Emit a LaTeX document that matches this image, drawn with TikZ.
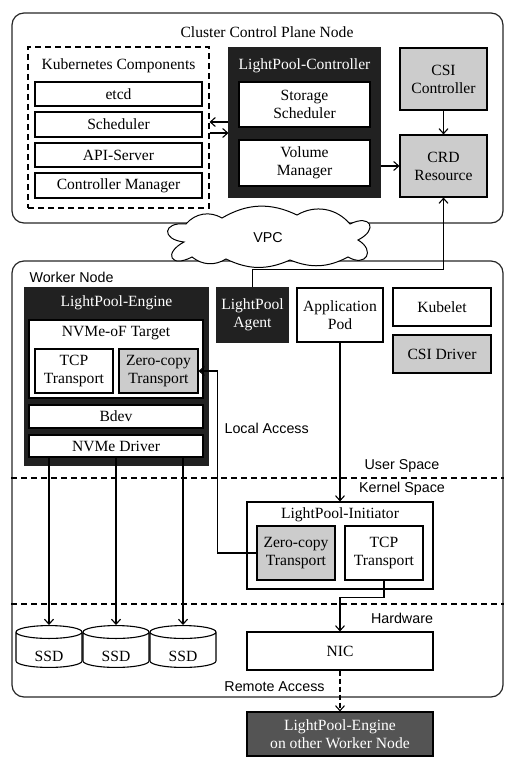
\documentclass[tikz,border=0pt]{standalone}
\usepackage{fontspec}
\setmainfont{Liberation Serif}
\newfontfamily\sansfam{Liberation Sans}
\usetikzlibrary{arrows.meta,shapes.geometric,shapes.symbols,calc}
\newcommand\serf{\fontsize{15.6}{18}\selectfont}
\newcommand\sanf{\sansfam\fontsize{14.3}{16}\selectfont}
\definecolor{lgray}{gray}{0.80}
\definecolor{dgray}{gray}{0.33}
\definecolor{blk}{gray}{0.13}
\begin{document}
\begin{tikzpicture}[x=1pt,y=-1pt,
  >={Straight Barb[length=5pt,width=9pt]},
  line width=1.1pt,
  outer/.style={draw=black!85, rounded corners=12pt, inner sep=0pt, line width=1.2pt},
  box/.style={draw, fill=white, inner sep=0pt, align=center, font=\serf},
  gbox/.style={box, fill=lgray},
  bbox/.style={draw=blk, fill=blk, inner sep=0pt},
  wtitle/.style={text=white, font=\serf, inner sep=0pt},
  lab/.style={font=\serf, inner sep=0pt},
  slab/.style={font=\sanf, inner sep=0pt},
  kb/.style={box, minimum width=167pt, minimum height=24pt},
  sep/.style={dashed, dash pattern=on 6pt off 4pt, line width=1.1pt},
  ssd/.style={cylinder, shape border rotate=90, aspect=0.45, draw, fill=white,
    minimum width=66pt, minimum height=38pt, inner sep=0pt, font=\serf,
    text height=22pt, text depth=0pt},
  lobe/.style={bend left=90, looseness=#1}
]
\useasboundingbox (0,0) rectangle (516,768);

% ---------- control plane ----------
\node[outer, minimum width=491pt, minimum height=210pt] (cp) at (257.5,118) {};
\node[lab] (cpt) at (267,32) {Cluster Control Plane Node};

\node[draw, sep, minimum width=181pt, minimum height=161pt, inner sep=0pt] (k8s) at (118.5,127.5) {};
\node[lab] (k8st) at (118.5,66) {Kubernetes Components};
\node[kb] (etcd) at (118.5,94) {etcd};
\node[kb, minimum height=25pt] (sched) at (118.5,124.5) {Scheduler};
\node[kb] (api) at (118.5,155) {API-Server};
\node[kb, minimum height=25pt] (cm) at (118.5,185.5) {Controller Manager};

\node[bbox, minimum width=151pt, minimum height=149pt] (lpc) at (304.5,122.5) {};
\node[wtitle] (lpct) at (304.5,66) {LightPool-Controller};
\node[box, minimum width=131pt, minimum height=45pt] (ss) at (304.5,104.5) {Storage\\Scheduler};
\node[box, minimum width=131pt, minimum height=46pt] (vm) at (304.5,163) {Volume\\Manager};

\node[gbox, minimum width=87pt, minimum height=62pt] (csic) at (443.5,79) {CSI\\Controller};
\node[gbox, minimum width=87pt, minimum height=62pt] (crd) at (443.5,166) {CRD\\Resource};

\coordinate (ya) at (0,122);
\coordinate (yb) at (0,133);
\draw[->] (lpc.west |- ya) -- (k8s.east |- ya);
\draw[->] (k8s.east |- yb) -- (lpc.west |- yb);
\draw[->] (csic.south) -- (crd.north);
\draw[->] (lpc.east |- crd.west) -- (crd.west);

% ---------- worker node ----------
\node[outer, minimum width=491pt, minimum height=436pt] (wn) at (257.5,479) {};
\node[slab, anchor=west] (wnt) at (29,277) {Worker Node};

% VPC cloud
\draw[fill=white, line width=1pt]
  (186,224) to[bend left=40] (222,218)
  to[bend left=28] (297,215)
  to[bend left=40] (350,224)
  to[lobe=3.3] (358,240)
  to[lobe=2.7] (348,257)
  to[bend left=25] (290,260)
  to[bend left=25] (226,259)
  to[bend left=35] (192,257)
  to[lobe=3.6] (184,242)
  to[lobe=3.3] cycle;
\node[font=\sanf, inner sep=0pt] (vpc) at (268,238) {VPC};

\node[bbox, minimum width=183pt, minimum height=177pt] (lpe) at (116.5,376.5) {};
\node[wtitle] (lpet) at (116.5,303) {LightPool-Engine};
\node[box, minimum width=174pt, minimum height=78pt] (tgt) at (116,359) {};
\node[lab] (tgtt) at (116,333) {NVMe-oF Target};
\node[box, minimum width=78pt, minimum height=44pt] (tcpe) at (74,371) {TCP\\Transport};
\node[gbox, minimum width=79pt, minimum height=44pt] (zce) at (158.5,371) {Zero-copy\\Transport};
\node[box, minimum width=174pt, minimum height=23pt] (bdev) at (116,416.5) {Bdev};
\node[box, minimum width=174pt, minimum height=22pt] (nvme) at (116,446) {NVMe Driver};

\node[bbox, minimum width=71pt, minimum height=54pt, align=center, text=white, font=\serf] (agent) at (252.5,315) {LightPool\\Agent};
\node[box, minimum width=86pt, minimum height=54pt] (pod) at (340,315) {Application\\Pod};
\node[box, minimum width=98pt, minimum height=38pt] (kubelet) at (442,307) {Kubelet};
\node[gbox, minimum width=98pt, minimum height=38pt] (csid) at (442,354) {CSI Driver};

\draw[->] (agent.north) -- ++(0,-18) -| (crd.south);

\node[slab, anchor=west] (la) at (224,428) {Local Access};
\node[slab] (us) at (402,466) {User Space};
\coordinate (yus) at (0,478);
\draw[sep] (wn.west |- yus) -- (wn.east |- yus);
\node[slab] (ks) at (402,489) {Kernel Space};

\node[box, minimum width=186pt, minimum height=87pt] (ini) at (340,545.5) {};
\node[lab] (init) at (340,515) {LightPool-Initiator};
\node[gbox, minimum width=78pt, minimum height=54pt] (zci) at (296,553) {Zero-copy\\Transport};
\node[box, minimum width=78pt, minimum height=54pt] (tcpi) at (384,553) {TCP\\Transport};

\draw[->] (pod.south) -- (ini.north);
\draw[->] (zci.west) -- ++(-39,0) |- (zce.east);

\coordinate (yhw) at (0,604);
\draw[sep] (wn.west |- yhw) -- (wn.east |- yhw);
\node[slab] (hw) at (402,618) {Hardware};

\node[box, minimum width=186pt, minimum height=38pt] (nic) at (340,651) {NIC};
\draw[->] (tcpi.south) -- ++(0,17) -| (nic.north);

\node[ssd] (ssd1) at (49,650) {SSD};
\node[ssd] (ssd2) at (116,650) {SSD};
\node[ssd] (ssd3) at (183,650) {SSD};
\draw[->] (ssd1.north |- nvme.south) -- (ssd1.north);
\draw[->] (ssd2.north |- nvme.south) -- (ssd2.north);
\draw[->] (ssd3.north |- nvme.south) -- (ssd3.north);

\node[slab] (ra) at (274.5,687) {Remote Access};
\node[draw, fill=dgray, minimum width=186pt, minimum height=44pt, inner sep=0pt,
  align=center, text=white, font=\serf] (other) at (340,734) {LightPool-Engine\\on other Worker Node};
\draw[->, dashed, dash pattern=on 5pt off 3pt] (nic.south) -- (other.north);
\end{tikzpicture}
\end{document}
